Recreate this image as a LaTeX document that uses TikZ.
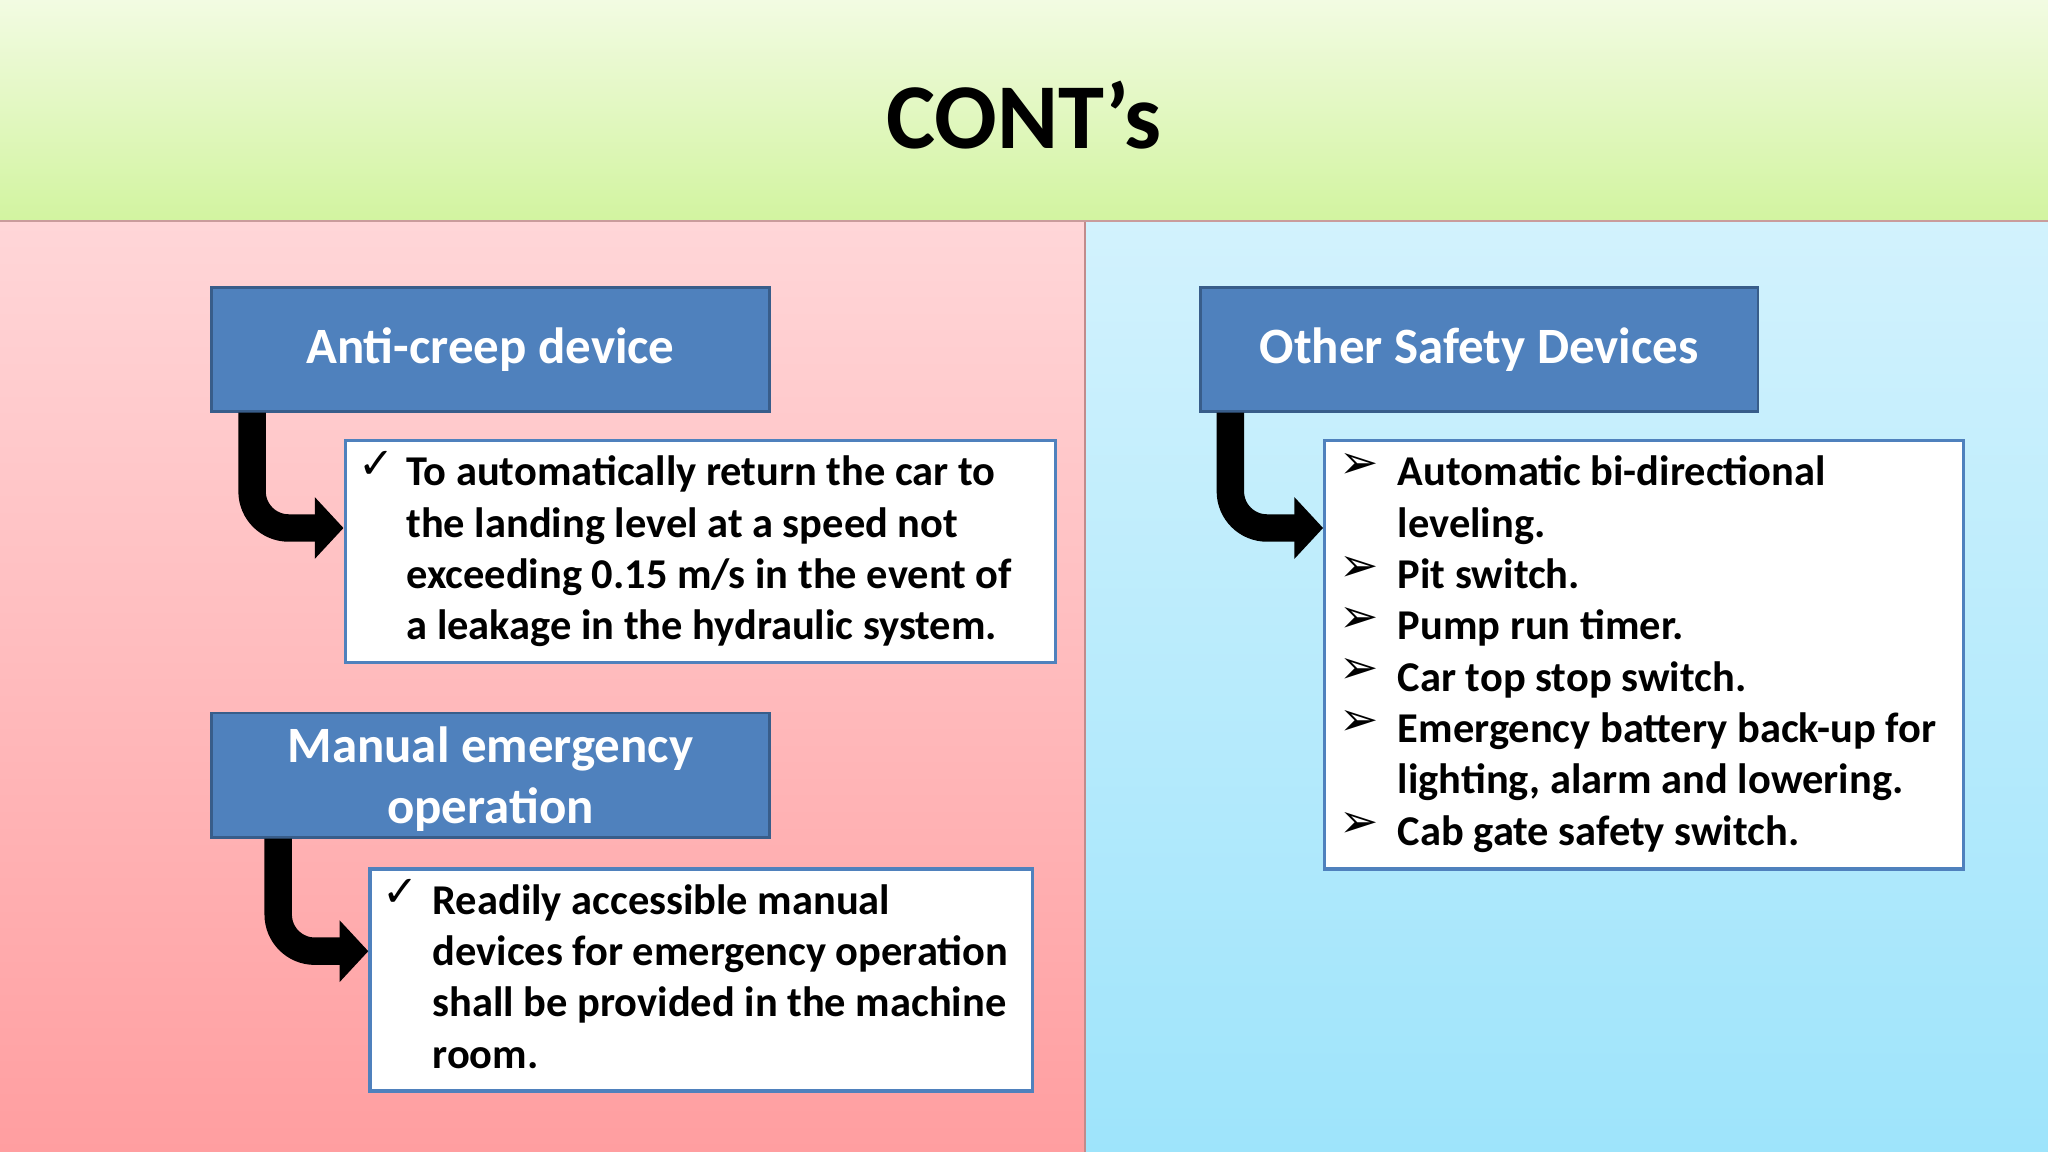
\documentclass[tikz,border=0pt]{standalone}
\usepackage{fontspec}
\setmainfont{Carlito}
\newfontfamily\symf{DejaVu Sans}
\usetikzlibrary{arrows.meta}
\definecolor{hdrblue}{HTML}{4F81BD}
\definecolor{hdrborder}{HTML}{385D8A}
\definecolor{rtop}{HTML}{D2F2FD}
\definecolor{rbot}{HTML}{9EE4FB}
\definecolor{ltop}{HTML}{FFD6D8}
\definecolor{lbot}{HTML}{FF9EA0}
\definecolor{gtop}{HTML}{F2FBE2}
\definecolor{gbot}{HTML}{D2F4A0}
\tikzset{
  hdr/.style={draw=hdrborder,line width=2pt,fill=hdrblue,text=white,font=\bfseries\fontsize{39}{47}\selectfont,align=center,minimum width=427pt,minimum height=95pt,anchor=north west,inner sep=0pt},
  wbox/.style={draw=hdrblue,line width=2.5pt,fill=white,anchor=north west,inner sep=0pt},
  body/.style={font=\bfseries\fontsize{32.5}{39.3}\selectfont,align=left,anchor=north west,inner sep=0pt},
  elbow/.style={line width=21pt,rounded corners=28pt,-{Triangle[length=22pt,width=46pt]}},
}
\begin{document}
\begin{tikzpicture}[x=1pt,y=-1pt]
\useasboundingbox (0,0) rectangle (1568,882);
\shade[top color=gtop,bottom color=gbot] (0,0) rectangle (1568,169);
\shade[top color=ltop,bottom color=lbot] (0,170) rectangle (831,882);
\shade[top color=rtop,bottom color=rbot] (831,170) rectangle (1568,882);
\draw[gray!70!red!60,line width=1.5pt] (0,169) -- (1568,169);
\draw[gray!70!red!70,line width=1.5pt] (831,170) -- (831,882);
\node[font=\bfseries\fontsize{71}{80}\selectfont] (title) at (784,88) {CONT’s};
% left top
\node[hdr] (h1) at (161,219) {Anti-creep device};
\node[wbox,minimum width=544pt,minimum height=170pt] (b1) at (263,336) {};
\node[body] (t1) at (274,345) {{\symf\fontsize{33}{36}\selectfont ✓}};
\node[body] (t1b) at (311,349) {To automatically return the car to\\the landing level at a speed not\\exceeding 0.15 m/s in the event of\\a leakage in the hydraulic system.};
\draw[elbow] ([xshift=32pt]h1.south west) |- ([yshift=18pt]b1.west);
% left bottom
\node[hdr,text depth=0pt] (h2) at (161,545) {Manual emergency\\operation};
\node[wbox,minimum width=507pt,minimum height=170pt] (b2) at (282,664) {};
\node[body] (t2) at (293,673) {{\symf\fontsize{33}{36}\selectfont ✓}};
\node[body] (t2b) at (331,677) {Readily accessible manual\\devices for emergency operation\\shall be provided in the machine\\room.};
\draw[elbow] ([xshift=52pt]h2.south west) |- ([yshift=22pt]b2.west);
% right
\node[hdr] (h3) at (918,219) {Other Safety Devices};
\node[wbox,minimum width=489pt,minimum height=328pt] (b3) at (1013,336) {};
\node[body,font=\symf\fontsize{36}{39.3}\selectfont] (bul) at (1025,347) {➢\\[39.3pt]➢\\➢\\➢\\➢\\[39.3pt]➢};
\node[body] (t3) at (1070,349) {Automatic bi-directional\\leveling.\\Pit switch.\\Pump run timer.\\Car top stop switch.\\Emergency battery back-up for\\lighting, alarm and lowering.\\Cab gate safety switch.};
\draw[elbow] ([xshift=24pt]h3.south west) |- ([yshift=97pt]b3.west);
\end{tikzpicture}
\end{document}
